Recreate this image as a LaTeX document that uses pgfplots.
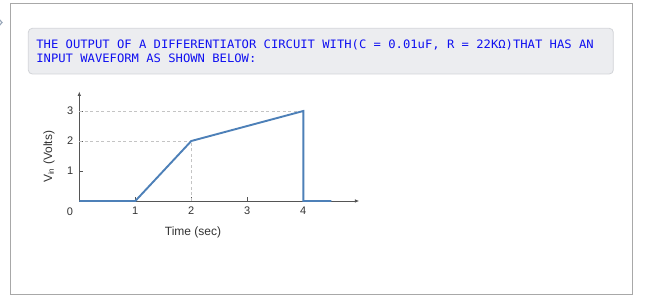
\documentclass[border=0pt]{standalone}
\usepackage{pgfplots}
\pgfplotsset{compat=1.18}
\usepackage{fontspec}
\setmainfont{Liberation Sans}
\newfontfamily\monofont{DejaVu Sans Mono}
\usetikzlibrary{arrows.meta,calc}

\definecolor{frame}{HTML}{A8A8A8}
\definecolor{boxfill}{HTML}{ECEDF0}
\definecolor{boxline}{HTML}{D2D4D8}
\definecolor{qblue}{HTML}{1010F0}
\definecolor{wave}{HTML}{4D80B8}
\definecolor{guide}{HTML}{C4C4C4}
\definecolor{axisgrey}{HTML}{555555}
\definecolor{chev}{HTML}{9AA8BA}

\begin{document}
\begin{tikzpicture}
\useasboundingbox (0pt,0pt) rectangle (657pt,308pt);
\fill[white] (0pt,0pt) rectangle (657pt,308pt);

% collapse arrow at the left margin
\begin{scope}
\clip (0pt,0pt) rectangle (657pt,308pt);
\draw[chev, line width=1.2pt] (-2pt,290pt) -- (2pt,285.5pt) -- (-2pt,281pt);
\end{scope}

% card frame
\draw[frame, line width=0.9pt] (10pt,14pt) rectangle (632pt,304.7pt);

% question box
\draw[boxline, fill=boxfill, line width=0.8pt, rounded corners=4pt] (28.3pt,234pt) rectangle (613.3pt,279.7pt);
\node[anchor=base west, inner sep=0, text=qblue, xscale=1.05, font=\monofont\fontsize{11.6}{14}\selectfont]
  at (36.2pt,259.5pt) {THE OUTPUT OF A DIFFERENTIATOR CIRCUIT WITH(C = 0.01uF, R = 22K\symbol{"03A9})THAT HAS AN};
\node[anchor=base west, inner sep=0, text=qblue, xscale=1.05, font=\monofont\fontsize{11.6}{14}\selectfont]
  at (36.2pt,245.2pt) {INPUT WAVEFORM AS SHOWN BELOW:};

\begin{axis}[
  at={(79.3pt,107pt)}, anchor=south west,
  scale only axis, width=280pt, height=109.5pt,
  xmin=0, xmax=5, ymin=0, ymax=3.65,
  axis lines=left,
  axis line style={axisgrey, line width=0.8pt, -{Latex[length=4.5pt,width=3.6pt]}},
  xtick={1,2,3,4}, ytick={1,2,3},
  tick align=inside,
  major tick length=4pt,
  tick style={axisgrey, line width=0.8pt},
  ticklabel style={font=\fontsize{11}{12}\selectfont, text=black!80},
  xticklabel style={yshift=-2.5pt},
  yticklabel style={xshift=-2.5pt},
  /pgf/number format/assume math mode=true,
  clip=false,
]
% guide lines
\addplot[guide, line width=0.7pt, dash pattern=on 3pt off 2.5pt] coordinates {(0,3) (4,3)};
\addplot[guide, line width=0.7pt, dash pattern=on 3pt off 2.5pt] coordinates {(0,2) (2,2)};
\addplot[guide, line width=0.7pt, dash pattern=on 3pt off 2.5pt] coordinates {(2,0) (2,2)};
% input waveform
\addplot[wave, line width=1.9pt, line join=miter] coordinates {(0,0) (1,0) (2,2) (4,3) (4,0) (4.5,0)};

\node[anchor=center, font=\fontsize{11}{12}\selectfont, text=black!80] at ($(axis cs:0,0)+(-9.3pt,-10.7pt)$) {0};
\node[anchor=center, font=\fontsize{12}{14}\selectfont, text=black!80] at ($(axis cs:2.03,0)+(0pt,-31.7pt)$) {Time (sec)};
\node[anchor=center, rotate=90, font=\fontsize{12}{14}\selectfont, text=black!80] at ($(axis cs:0,1.47)+(-30.3pt,0pt)$) {V\textsubscript{in} (Volts)};
\end{axis}
\end{tikzpicture}
\end{document}
